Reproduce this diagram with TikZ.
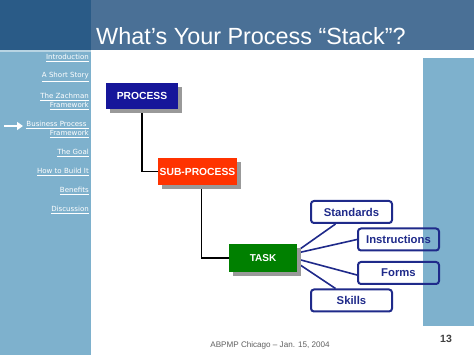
\documentclass[tikz,border=0pt]{standalone}
\usepackage{fontspec}
\setmainfont{Liberation Sans}
\newfontfamily\sidefont{DejaVu Sans}
\usetikzlibrary{arrows.meta,shadows,backgrounds}

\definecolor{headblue}{HTML}{4A7096}
\definecolor{headdark}{HTML}{2A5B87}
\definecolor{sideblue}{HTML}{7EB1CD}
\definecolor{navy}{HTML}{1F2A8A}
\definecolor{procblue}{HTML}{16169A}
\definecolor{subred}{HTML}{FF3300}
\definecolor{taskgreen}{HTML}{008000}

\tikzset{
	levelbox/.style={text=white, font=\fontsize{10.3}{12}\selectfont\bfseries, inner sep=0pt,
		general shadow={fill=gray!80, shadow xshift=4pt, shadow yshift=-4pt}},
	itembox/.style={draw=navy, line width=2pt, rounded corners=3pt, text=navy,
		font=\fontsize{11.3}{13}\selectfont\bfseries, minimum width=81pt, minimum height=22pt, inner sep=0pt},
	sidelink/.style={text=white, font=\sidefont\fontsize{7.05}{9}\selectfont, align=right, anchor=east, inner sep=0pt},
	elbow/.style={black, line width=1.5pt},
	spoke/.style={navy, line width=1.6pt},
}

\begin{document}
\begin{tikzpicture}[x=1pt, y=-1pt]

	\useasboundingbox (0,0) rectangle (474,355);

	% slide background
	\begin{pgfonlayer}{background}
		\fill[white] (0,0) rectangle (474,355);
		\fill[headblue] (0,0) rectangle (474,50);
		\fill[headdark] (0,0) rectangle (91,50);
		\fill[sideblue] (0,50) rectangle (91,355);
		\fill[sideblue!55!white] (0,50) rectangle (91,52);
		\fill[sideblue] (423,58) rectangle (474,326);
	\end{pgfonlayer}

	% Title
	\node[anchor=base west, text=white, font=\fontsize{23.4}{28}\selectfont, inner sep=0pt] (title) at (96,45)
		{What’s Your Process “Stack”?};

	% side menu
	\foreach \nm/\yy/\txt in {intro/58/{\underline{Introduction}},
			story/77/{\underline{A Short Story}},
			zach/101.5/{\underline{The Zachman}\\\underline{Framework}},
			bpf/129.5/{\underline{Business Process\ }\\\underline{Framework}},
			goal/153/{\underline{The Goal}},
			build/172/{\underline{How to Build It}},
			benefits/191/{\underline{Benefits}},
			discuss/210/{\underline{Discussion}}}
		\node[sidelink] (\nm) at (89,\yy) {\txt};

	% current item marker
	\coordinate (arrowtail) at (4,126);
	\coordinate (arrowtip) at (23,126);
	\draw[white, line width=2.5pt, -{Triangle[length=6pt,width=8pt]}] (arrowtail) -- (arrowtip);

	% process levels
	\node[levelbox, fill=procblue, minimum width=72pt, minimum height=26pt] (process) at (142,96) {PROCESS};
	\node[levelbox, fill=subred, minimum width=79pt, minimum height=27pt] (subprocess) at (197.5,171.5) {SUB-PROCESS};
	\node[levelbox, fill=taskgreen, font=\fontsize{10}{12}\selectfont\bfseries, minimum width=68pt, minimum height=28pt] (task) at (263,258) {TASK};

	% task items
	\node[itembox] (standards) at (351.5,212) {Standards};
	\node[itembox] (instructions) at (398.5,239.5) {Instructions};
	\node[itembox] (forms) at (398.5,273) {Forms};
	\node[itembox] (skills) at (351.5,300.5) {Skills};

	% connectors (behind the boxes)
	\begin{scope}[on background layer]
		\draw[elbow] (process.south) |- (subprocess.west);
		\draw[elbow] ([xshift=4pt]subprocess.south) |- (task.west);
		\draw[spoke] ([yshift=7pt]task.east) -- ([xshift=-16pt]standards.south);
		\draw[spoke] ([yshift=5pt]task.east) -- (instructions.west);
		\draw[spoke] ([yshift=-1pt]task.east) -- ([yshift=-2pt]forms.west);
		\draw[spoke] ([yshift=-5pt]task.east) -- ([xshift=-16pt]skills.north);
	\end{scope}

	% footer
	\node[text=gray!75!black, font=\fontsize{8.1}{10}\selectfont] (footer) at (270,345) {ABPMP Chicago – Jan. 15, 2004};
	\node[text=black!75, font=\fontsize{10.5}{12}\selectfont\bfseries] (pagenum) at (446,339) {13};

\end{tikzpicture}
\end{document}
